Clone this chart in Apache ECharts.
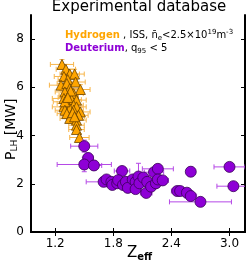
<!DOCTYPE html>
<html><head><meta charset="utf-8">
<script src="https://cdn.jsdelivr.net/npm/echarts@6/dist/echarts.min.js"></script>
<style>html,body{margin:0;padding:0;background:#fff}#c{width:250px;height:264px}</style>
</head><body><div id="c"></div>
<script>
// Hydrogen data: Zeff, P_LH, Zeff error, P_LH error
const hX = [1.27,1.31,1.35,1.40,1.29,1.33,1.41,1.26,1.32,1.46,1.35,1.30,1.34,1.39,1.29,1.37,1.42,1.32,1.39,1.29,1.35,1.30,1.42,1.30,1.39,1.46,1.32,1.37,1.44,1.35,1.42,1.38,1.42,1.42,1.45,1.36,1.33,1.40];
const hY = [6.95,6.75,6.55,6.55,6.45,6.32,6.22,6.09,6.16,5.91,5.95,5.81,5.67,5.74,5.54,5.49,5.47,5.33,5.26,5.19,5.12,5.40,5.19,5.05,5.05,4.98,4.91,4.84,4.84,4.71,4.64,4.95,4.43,4.25,3.92,5.85,5.58,4.78];
const hXerr = [0.12,0.10,0.10,0.10,0.10,0.10,0.10,0.12,0.10,0.10,0.10,0.10,0.10,0.10,0.12,0.10,0.10,0.10,0.10,0.12,0.10,0.12,0.10,0.10,0.10,0.10,0.10,0.10,0.10,0.10,0.10,0.10,0.08,0.08,0.10,0.10,0.10,0.10];
const hYerr = [0.2,0.2,0.2,0.2,0.2,0.2,0.2,0.2,0.2,0.2,0.2,0.2,0.2,0.2,0.2,0.2,0.2,0.2,0.2,0.2,0.2,0.2,0.2,0.2,0.2,0.2,0.2,0.2,0.2,0.2,0.2,0.2,0.15,0.15,0.15,0.2,0.2,0.2];
// Deuterium data
const dX = [1.50,1.54,1.50,1.60,1.89,1.70,1.73,1.78,1.79,1.84,1.85,1.90,1.93,1.95,2.00,2.03,2.03,2.06,2.07,2.11,2.15,2.14,2.19,2.22,2.26,2.24,2.26,2.31,2.60,2.46,2.49,2.56,2.60,2.70,3.00,3.04];
const dY = [3.56,3.07,2.80,2.76,2.53,2.08,2.18,2.08,1.95,2.02,2.15,1.95,2.08,1.83,2.18,2.08,1.78,2.30,2.02,2.26,2.08,1.62,1.88,2.48,2.62,2.02,2.18,2.14,2.50,1.70,1.70,1.63,1.49,1.25,2.70,1.90];
const dXerr = [0.14,0.05,0.28,0.08,0.08,0.18,0.06,0.06,0.06,0.06,0.06,0.06,0.06,0.06,0.06,0.06,0.06,0.06,0.06,0.06,0.06,0.06,0.06,0.10,0.16,0.06,0.06,0.06,0.04,0.06,0.06,0.06,0.06,0.32,0.16,0.17];
const dYerr = [0.25,0.2,0.3,0.2,0.15,0.15,0.15,0.15,0.15,0.15,0.15,0.15,0.15,0.15,0.15,0.15,0.15,0.55,0.15,0.15,0.15,0.15,0.15,0.15,0.15,0.15,0.15,0.15,0.2,0.1,0.1,0.1,0.1,0.05,0.05,0.05];
const xTicks = [1.2, 1.8, 2.4, 3.0];
const yTicks = [0, 2, 4, 6, 8];

const FONT = 'DejaVu Sans';
const hData = hX.map((x,i)=>[x,hY[i],hXerr[i],hYerr[i]]);
const dData = dX.map((x,i)=>[x,dY[i],dXerr[i],dYerr[i]]);

function errRender(color){
  return function(params, api){
    const x=api.value(0), y=api.value(1), ex=api.value(2), ey=api.value(3);
    const a=api.coord([x-ex,y]), b=api.coord([x+ex,y]);
    const c=api.coord([x,y-ey]), d=api.coord([x,y+ey]);
    const cap=2.5;
    const st={stroke:color,lineWidth:1};
    const L=(x1,y1,x2,y2)=>({type:'line',shape:{x1,y1,x2,y2},style:st});
    return {type:'group',children:[
      L(a[0],a[1],b[0],b[1]),
      L(a[0],a[1]-cap,a[0],a[1]+cap),
      L(b[0],b[1]-cap,b[0],b[1]+cap),
      L(c[0],c[1],d[0],d[1]),
      L(c[0]-cap,c[1],c[0]+cap,c[1]),
      L(d[0]-cap,d[1],d[0]+cap,d[1])
    ]};
  };
}

const chart = echarts.init(document.getElementById('c'), null, {renderer:'canvas'});
const axisLine = {show:true, lineStyle:{color:'#000', width:2}};
const tick = {show:true, inside:true, length:4, lineStyle:{color:'#000', width:1}};
chart.setOption({
  animation:false,
  backgroundColor:'#fff',
  grid:{left:31,right:5,top:15,bottom:32},
  xAxis:[
    {type:'value',min:0.95,max:3.16,position:'bottom',axisLine,splitLine:{show:false},
     axisTick:Object.assign({customValues:xTicks},tick),
     axisLabel:{customValues:xTicks,color:'#000',fontFamily:FONT,fontSize:12,margin:6,formatter:v=>v.toFixed(1)}},
    {type:'value',min:0.95,max:3.16,position:'top',axisLine,splitLine:{show:false},
     axisTick:Object.assign({customValues:xTicks},tick),axisLabel:{show:false}}
  ],
  yAxis:[
    {type:'value',min:0,max:9,interval:2,position:'left',axisLine,splitLine:{show:false},
     axisTick:Object.assign({customValues:yTicks},tick),
     axisLabel:{customValues:yTicks,color:'#000',fontFamily:FONT,fontSize:12,margin:7}},
    {type:'value',min:0,max:9,interval:2,position:'right',axisLine,splitLine:{show:false},
     axisTick:Object.assign({customValues:yTicks},tick),axisLabel:{show:false}}
  ],
  series:[
    {type:'custom',renderItem:errRender('#F7B54A'),data:hData,clip:true,z:2,encode:{x:0,y:1}},
    {type:'scatter',symbol:'triangle',symbolSize:10,data:hData.map(d=>[d[0],d[1]]),z:3,
     itemStyle:{color:'#FFA500',borderColor:'#6b4200',borderWidth:0.8,opacity:1}},
    {type:'custom',renderItem:errRender('#B548E6'),data:dData,clip:true,z:4,encode:{x:0,y:1}},
    {type:'scatter',symbol:'circle',symbolSize:11,data:dData.map(d=>[d[0],d[1]]),z:5,
     itemStyle:{color:'#8E00D6',borderColor:'#3a0058',borderWidth:0.8,opacity:1}}
  ],
  graphic:[
    {type:'text',x:139,y:0,style:{text:'Experimental database',fontFamily:FONT,fontSize:15,fill:'#000',align:'center'}},
    {type:'text',x:65,y:29,z:100,style:{
      text:'{h|Hydrogen}{k| , ISS, n̄}{s|e}{k|<2.5×10}{p|19}{k|m}{p|-3}',
      rich:{
        h:{fontFamily:FONT,fontSize:10,fontWeight:'bold',fill:'#FFA500',lineHeight:13},
        k:{fontFamily:FONT,fontSize:10,fill:'#000',lineHeight:13},
        s:{fontFamily:FONT,fontSize:7,fill:'#000',lineHeight:7,verticalAlign:'bottom'},
        p:{fontFamily:FONT,fontSize:7,fill:'#000',lineHeight:7,verticalAlign:'top'}
      }}},
    {type:'text',x:65,y:42,z:100,style:{
      text:'{d|Deuterium}{k|, q}{s|95}{k| < 5}',
      rich:{
        d:{fontFamily:FONT,fontSize:10,fontWeight:'bold',fill:'#8E00D6',lineHeight:13},
        k:{fontFamily:FONT,fontSize:10,fill:'#000',lineHeight:13},
        s:{fontFamily:FONT,fontSize:7,fill:'#000',lineHeight:7,verticalAlign:'bottom'}
      }}},
    {type:'text',x:3,y:160,rotation:Math.PI/2,z:100,style:{
      text:'{a|P}{b|LH}{a| [MW]}',
      rich:{
        a:{fontFamily:FONT,fontSize:14,fill:'#000',lineHeight:16},
        b:{fontFamily:FONT,fontSize:9,fill:'#000',lineHeight:9,verticalAlign:'bottom'}
      }}},
    {type:'text',x:127,y:245,z:100,style:{
      text:'{a|Z}{b|eff}',
      rich:{
        a:{fontFamily:FONT,fontSize:15,fill:'#000',lineHeight:17},
        b:{fontFamily:FONT,fontSize:10,fontWeight:'bold',fill:'#000',lineHeight:10,verticalAlign:'bottom'}
      }}}
  ]
});
</script></body></html>
